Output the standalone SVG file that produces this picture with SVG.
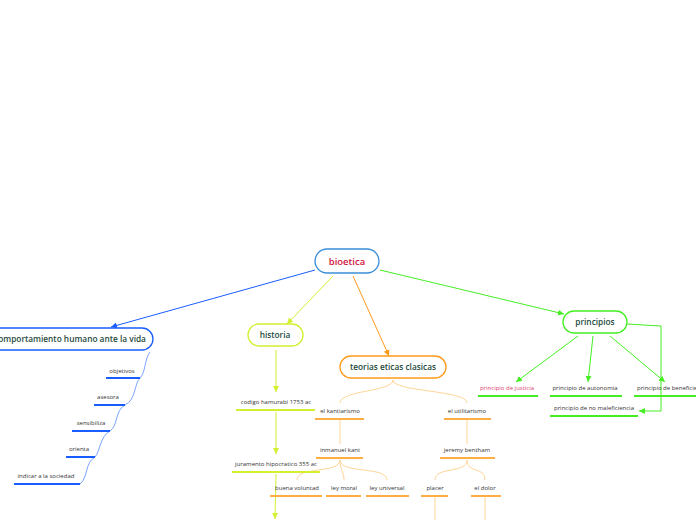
<svg xmlns="http://www.w3.org/2000/svg" width="696" height="520" viewBox="0 0 696 520">
<style>
text{font-family:"Open Sans","Liberation Sans",sans-serif;text-anchor:middle}
.main{font-size:8.3px;font-weight:600;fill:#1d4a3c}
.leaf{font-size:6px;fill:#333}
.box{fill:#fff;stroke-width:1.3}
.ul{stroke-width:2;fill:none}
.c{fill:none;stroke-width:1}
</style>
<defs>
<marker id="ab" markerWidth="8" markerHeight="8" refX="6" refY="4" orient="auto" markerUnits="userSpaceOnUse"><path d="M0,1 L6,4 L0,7z" fill="#1a5cff"/></marker>
<marker id="ay" markerWidth="8" markerHeight="8" refX="6" refY="4" orient="auto" markerUnits="userSpaceOnUse"><path d="M0,1 L6,4 L0,7z" fill="#d4ee30"/></marker>
<marker id="ao" markerWidth="8" markerHeight="8" refX="6" refY="4" orient="auto" markerUnits="userSpaceOnUse"><path d="M0,1 L6,4 L0,7z" fill="#ff9a1a"/></marker>
<marker id="ag" markerWidth="8" markerHeight="8" refX="6" refY="4" orient="auto" markerUnits="userSpaceOnUse"><path d="M0,1 L6,4 L0,7z" fill="#44ee22"/></marker>
</defs>
<g id="connectors">
<path class="c" d="M315,270 L111,327" stroke="#1a5cff" marker-end="url(#ab)"/>
<path class="c" d="M333,276 L287,324" stroke="#d4ee30" marker-end="url(#ay)"/>
<path class="c" d="M353,276 L389,356" stroke="#ff9a1a" marker-end="url(#ao)"/>
<path class="c" d="M380,270 L564,314" stroke="#44ee22" marker-end="url(#ag)"/>
<path class="c" d="M578,336 L516,382" stroke="#44ee22" marker-end="url(#ag)"/>
<path class="c" d="M593,336 L588,382" stroke="#44ee22" marker-end="url(#ag)"/>
<path class="c" d="M610,336 L665,382" stroke="#44ee22" marker-end="url(#ag)"/>
<path class="c" d="M627,324 L661,326 L661,411 L639,411" stroke="#44ee22" marker-end="url(#ag)"/>
<path class="c" stroke="#7aa4ff" d="M150,352 C144,360 146,372 140,378 C134,384 136,400 125,405 C115,410 118,426 110,431 C100,436 100,452 95,457 C85,462 88,478 80,484"/>
<path class="c" d="M276,350 L276,392" stroke="#d4ee30" marker-end="url(#ay)"/>
<path class="c" d="M276,412 L276,454" stroke="#d4ee30" marker-end="url(#ay)"/>
<path class="c" d="M276,474 L275,519" stroke="#d4ee30" marker-end="url(#ay)"/>
<g stroke="#ffd598" class="c">
<path d="M393,380 C393,392 340,390 340,403"/>
<path d="M393,380 C393,392 467,390 467,403"/>
<path d="M340,420 L340,444"/>
<path d="M467,420 L467,444"/>
<path d="M340,460 C340,474 297,466 297,480"/>
<path d="M340,460 C340,470 344,472 344,480"/>
<path d="M340,460 C340,474 387,466 387,480"/>
<path d="M467,460 C467,474 435,466 435,480"/>
<path d="M467,460 C467,474 485,466 485,480"/>
<path d="M435,497 L435,520"/>
<path d="M485,497 L485,520"/>
</g>
</g>
<g id="bioetica"><rect class="box" x="315" y="249" width="64" height="24" rx="12" stroke="#3a8fd8"/><text x="347" y="265" style="font-size:9.5px;font-weight:600;fill:#d0103a">bioetica</text></g>
<g id="comportamiento"><rect class="box" x="-12" y="328" width="165" height="22" rx="11" stroke="#1a5cff"/><text class="main" x="70" y="342">comportamiento humano ante la vida</text></g>
<g id="historia"><rect class="box" x="248" y="324" width="55" height="22" rx="11" stroke="#d4ee30"/><text class="main" x="275" y="338">historia</text></g>
<g id="teorias"><rect class="box" x="340" y="356" width="106" height="22" rx="11" stroke="#ff9a1a"/><text class="main" x="393" y="370">teorias eticas clasicas</text></g>
<g id="principios"><rect class="box" x="563" y="311" width="64" height="22" rx="11" stroke="#44ee22"/><text class="main" x="595" y="325">principios</text></g>
<g id="blue-leaves" stroke="#1a5cff">
<text class="leaf" x="122" y="373" stroke="none">objetivos</text><path class="ul" d="M106,378 H140"/>
<text class="leaf" x="108" y="399" stroke="none">asesora</text><path class="ul" d="M94,405 H125"/>
<text class="leaf" x="91" y="425" stroke="none">sensibiliza</text><path class="ul" d="M72,431 H110"/>
<text class="leaf" x="79" y="451" stroke="none">orienta</text><path class="ul" d="M66,457 H95"/>
<text class="leaf" x="46" y="478" stroke="none">indicar a la sociedad</text><path class="ul" d="M14,484 H80"/>
</g>
<g id="historia-leaves" stroke="#d4ee30">
<text class="leaf" x="276" y="404" stroke="none">codigo hamurabi 1753 ac</text><path class="ul" d="M236,410 H315"/>
<text class="leaf" x="276" y="466" stroke="none">juramento hipocratico 355 ac</text><path class="ul" d="M232,472 H320"/>
</g>
<g id="teorias-leaves" stroke="#ffae44">
<text class="leaf" x="340" y="413" stroke="none">el kantiarismo</text><path class="ul" d="M315,419 H364"/>
<text class="leaf" x="467" y="413" stroke="none">el utilitarismo</text><path class="ul" d="M444,419 H491"/>
<text class="leaf" x="340" y="452" stroke="none">inmanuel kant</text><path class="ul" d="M316,458 H363"/>
<text class="leaf" x="467" y="452" stroke="none">jeremy bentham</text><path class="ul" d="M440,458 H495"/>
<text class="leaf" x="297" y="490" stroke="none">buena voluntad</text><path class="ul" d="M270,496 H322"/>
<text class="leaf" x="344" y="490" stroke="none">ley moral</text><path class="ul" d="M326,496 H361"/>
<text class="leaf" x="387" y="490" stroke="none">ley universal</text><path class="ul" d="M366,496 H409"/>
<text class="leaf" x="435" y="490" stroke="none">placer</text><path class="ul" d="M421,496 H448"/>
<text class="leaf" x="485" y="490" stroke="none">el dolor</text><path class="ul" d="M471,496 H501"/>
</g>
<g id="principios-leaves" stroke="#44ee22">
<text class="leaf" x="507" y="390" stroke="none" style="fill:#e04070">principio de justicia</text><path class="ul" d="M478,396 H538"/>
<text class="leaf" x="585" y="390" stroke="none">principio de autonomia</text><path class="ul" d="M550,396 H622"/>
<text class="leaf" x="637" y="390" stroke="none" style="text-anchor:start">principio de beneficiencia</text><path class="ul" d="M634,396 H696"/>
<text class="leaf" x="594" y="410" stroke="none">principio de no maleficiencia</text><path class="ul" d="M550,416 H638"/>
</g>
</svg>
